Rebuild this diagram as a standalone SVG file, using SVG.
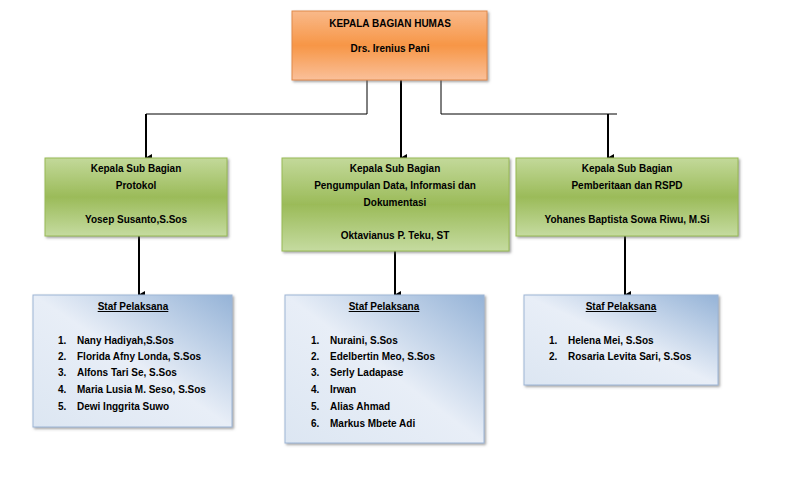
<svg xmlns="http://www.w3.org/2000/svg" width="799" height="500" viewBox="0 0 799 500">
<defs>
<linearGradient id="og" x1="0" y1="0" x2="0" y2="1"><stop offset="0" stop-color="#f9b98a"/><stop offset="0.5" stop-color="#f79646"/><stop offset="1" stop-color="#fac09a"/></linearGradient>
<linearGradient id="gg" x1="0" y1="0" x2="0" y2="1"><stop offset="0" stop-color="#c3d99a"/><stop offset="0.5" stop-color="#9bbb59"/><stop offset="1" stop-color="#c5dba0"/></linearGradient>
<linearGradient id="bg" x1="0" y1="1" x2="1" y2="0"><stop offset="0" stop-color="#dce6f2"/><stop offset="0.5" stop-color="#e8eef7"/><stop offset="1" stop-color="#95b3d7"/></linearGradient>
<marker id="ar" markerWidth="8" markerHeight="8" refX="4" refY="7" orient="auto" markerUnits="userSpaceOnUse"><path d="M0,1 L8,1 L4,8 Z" fill="#000"/></marker>
<filter id="sh"><feDropShadow dx="1.5" dy="1.5" stdDeviation="0.8" flood-color="#666" flood-opacity="0.6"/></filter>
</defs>
<style>
text{font-family:"Liberation Sans",Arial,sans-serif;font-size:10px;font-weight:bold;fill:#000;text-anchor:middle}
.l{text-anchor:start}
.box{filter:url(#sh)}
.c{stroke:#000;fill:none;stroke-width:1}
.a{stroke:#000;fill:none;stroke-width:2;marker-end:url(#ar)}
</style>
<g id="connectors">
<polyline class="c" points="367,80 367,114 146,114"/>
<line class="a" x1="146" y1="114" x2="146" y2="158"/>
<line class="a" x1="401" y1="80" x2="401" y2="158"/>
<polyline class="c" points="441,80 441,114 617,114"/>
<line class="a" x1="608" y1="114" x2="608" y2="158"/>
<line class="a" x1="139" y1="236" x2="139" y2="295"/>
<line class="a" x1="395" y1="251" x2="395" y2="295"/>
<line class="a" x1="625" y1="236" x2="625" y2="295"/>
</g>
<g id="head"><rect class="box" x="292" y="11" width="195" height="69" fill="url(#og)" stroke="#e08a4a"/>
<text x="390" y="27">KEPALA BAGIAN HUMAS</text><text x="390" y="52">Drs. Irenius Pani</text></g>
<g id="sub1"><rect class="box" x="45" y="158" width="182" height="78" fill="url(#gg)" stroke="#98b954"/>
<text x="136" y="172">Kepala Sub Bagian</text><text x="136" y="189">Protokol</text><text x="136" y="223">Yosep Susanto,S.Sos</text></g>
<g id="sub2"><rect class="box" x="282" y="158" width="227" height="93" fill="url(#gg)" stroke="#98b954"/>
<text x="395" y="172">Kepala Sub Bagian</text><text x="395" y="189">Pengumpulan Data, Informasi dan</text><text x="395" y="206">Dokumentasi</text><text x="395" y="239">Oktavianus P. Teku, ST</text></g>
<g id="sub3"><rect class="box" x="516" y="158" width="222" height="78" fill="url(#gg)" stroke="#98b954"/>
<text x="627" y="172">Kepala Sub Bagian</text><text x="627" y="189">Pemberitaan dan RSPD</text><text x="627" y="223">Yohanes Baptista Sowa Riwu, M.Si</text></g>
<g id="staf1"><rect class="box" x="33" y="295" width="199" height="132" fill="url(#bg)" stroke="#9db5d5"/>
<text x="133" y="310" text-decoration="underline">Staf Pelaksana</text>
<g class="l"><text class="l" x="58" y="344">1.<tspan x="77">Nany Hadiyah,S.Sos</tspan></text><text class="l" x="58" y="360">2.<tspan x="77">Florida Afny Londa, S.Sos</tspan></text><text class="l" x="58" y="376">3.<tspan x="77">Alfons Tari Se, S.Sos</tspan></text><text class="l" x="58" y="393">4.<tspan x="77">Maria Lusia M. Seso, S.Sos</tspan></text><text class="l" x="58" y="410">5.<tspan x="77">Dewi Inggrita Suwo</tspan></text></g></g>
<g id="staf2"><rect class="box" x="285" y="295" width="199" height="148" fill="url(#bg)" stroke="#9db5d5"/>
<text x="384" y="310" text-decoration="underline">Staf Pelaksana</text>
<text class="l" x="311" y="344">1.<tspan x="330">Nuraini, S.Sos</tspan></text><text class="l" x="311" y="360">2.<tspan x="330">Edelbertin Meo, S.Sos</tspan></text><text class="l" x="311" y="376">3.<tspan x="330">Serly Ladapase</tspan></text><text class="l" x="311" y="393">4.<tspan x="330">Irwan</tspan></text><text class="l" x="311" y="410">5.<tspan x="330">Alias Ahmad</tspan></text><text class="l" x="311" y="427">6.<tspan x="330">Markus Mbete Adi</tspan></text></g>
<g id="staf3"><rect class="box" x="524" y="295" width="194" height="90" fill="url(#bg)" stroke="#9db5d5"/>
<text x="621" y="310" text-decoration="underline">Staf Pelaksana</text>
<text class="l" x="549" y="344">1.<tspan x="568">Helena Mei, S.Sos</tspan></text><text class="l" x="549" y="360">2.<tspan x="568">Rosaria Levita Sari, S.Sos</tspan></text></g>
</svg>
